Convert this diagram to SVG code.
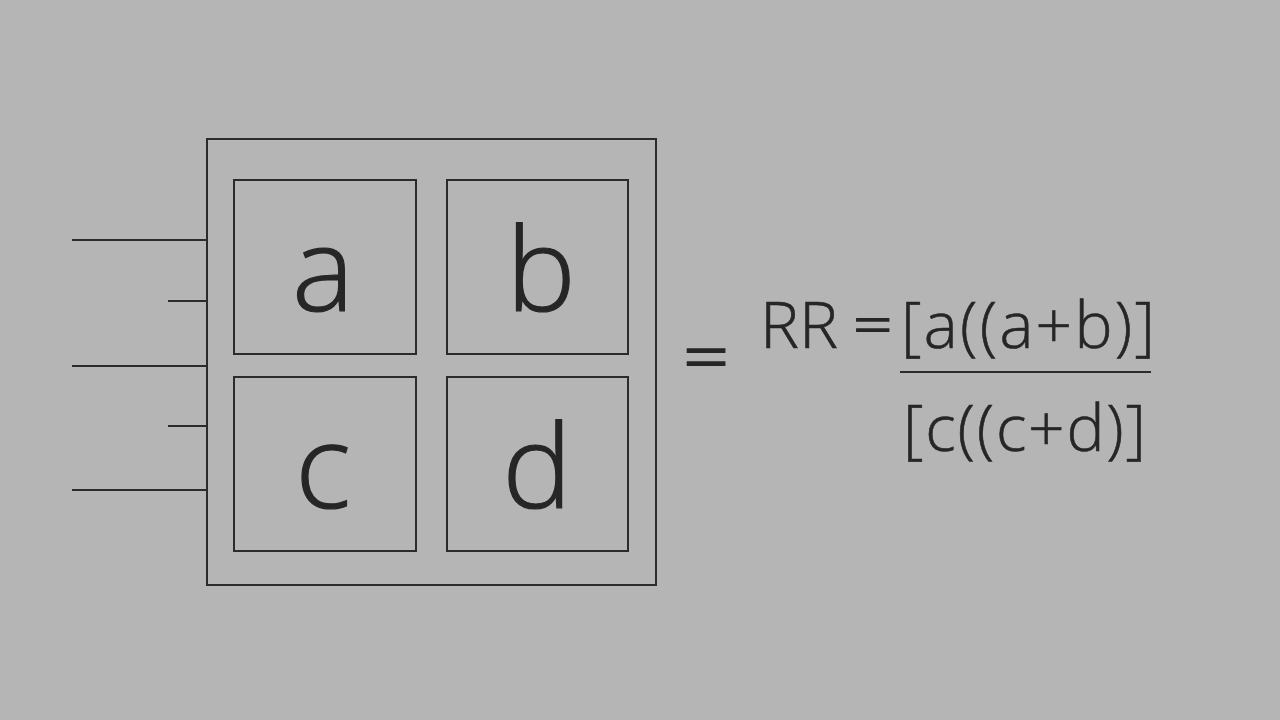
<svg xmlns="http://www.w3.org/2000/svg" width="1280" height="720" viewBox="0 0 1280 720">
<style>
.ln{stroke:#2b2b2b;stroke-width:2;fill:none}
.box{fill:none;stroke:#2b2b2b;stroke-width:2}
.big{font-family:"Open Sans","Noto Sans",sans-serif;font-weight:300;font-size:117px;fill:#262626;text-anchor:middle;stroke:#262626;stroke-width:1.2}
.eq{font-family:"Open Sans","Noto Sans",sans-serif;font-weight:300;font-size:64px;fill:#262626;stroke:#262626;stroke-width:0.6}
.sym{font-family:"Noto Sans",sans-serif;fill:#262626}
</style>
<rect width="1280" height="720" fill="#b5b5b5"/>
<g id="connectors">
<line class="ln" x1="72" y1="240" x2="207" y2="240"/>
<line class="ln" x1="168" y1="301" x2="207" y2="301"/>
<line class="ln" x1="72" y1="366" x2="207" y2="366"/>
<line class="ln" x1="168" y1="426" x2="207" y2="426"/>
<line class="ln" x1="72" y1="490" x2="207" y2="490"/>
</g>
<g id="outer"><rect class="box" x="207" y="139" width="449" height="446"/></g>
<g id="cell-a"><rect class="box" x="234" y="180" width="182" height="174"/><text class="big" x="323" y="311">a</text></g>
<g id="cell-b"><rect class="box" x="447" y="180" width="181" height="174"/><text class="big" x="541" y="311">b</text></g>
<g id="cell-c"><rect class="box" x="234" y="377" width="182" height="174"/><text class="big" x="323" y="508">c</text></g>
<g id="cell-d"><rect class="box" x="447" y="377" width="181" height="174"/><text class="big" x="537" y="508">d</text></g>
<g id="equals" transform="translate(682,380) scale(1.3,1)"><text class="sym" x="0" y="0" font-size="65">=</text></g>
<g id="formula">
<text class="eq" x="760" y="348" textLength="78" lengthAdjust="spacingAndGlyphs">RR</text>
<g transform="translate(852,344) scale(1.4,1)"><text class="sym" x="0" y="0" font-size="52">=</text></g>
<text class="eq" x="901" y="348" textLength="254" lengthAdjust="spacing">[a((a+b)]</text>
<line class="ln" x1="900" y1="372" x2="1151" y2="372"/>
<text class="eq" x="903" y="451" textLength="243" lengthAdjust="spacing">[c((c+d)]</text>
</g>
</svg>
